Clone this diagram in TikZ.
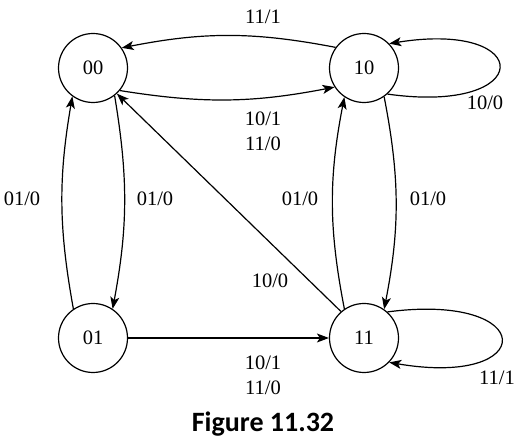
\documentclass[tikz,border=0pt]{standalone}
\usepackage{fontspec}
\setmainfont{Liberation Serif}
\newfontfamily\capfont{Carlito}
\usetikzlibrary{arrows.meta}
\begin{document}
\begin{tikzpicture}[x=1pt,y=1pt,
  state/.style={circle,draw,line width=1.2pt,minimum size=69pt,inner sep=0pt,font=\fontsize{20.5}{24}\selectfont},
  lbl/.style={font=\fontsize{20.5}{25}\selectfont,align=center,inner sep=0pt},
  edge/.style={line width=1.2pt,-{Stealth[length=12pt,width=9pt,inset=3pt]}}]
\useasboundingbox (0,0) rectangle (525,447);
\node[state] (s00) at (93,379) {00};
\node[state] (s10) at (364,379) {10};
\node[state] (s01) at (93,109) {01};
\node[state] (s11) at (364,109) {11};
% top pair
\draw[edge] (s10.144) to[bend right=11] (s00.35);
\draw[edge] (s00.-40) to[bend right=10] (s10.213);
% left pair
\draw[edge] (s01.124) to[bend left=10] (s00.234);
\draw[edge] (s00.308) to[bend left=10] (s01.56);
% right pair
\draw[edge] (s11.124) to[bend left=11] (s10.236);
\draw[edge] (s10.305) to[bend left=11] (s11.55);
% diagonal and bottom
\draw[edge] (s11.131) -- (s00.313);
\draw[edge] (s01) -- (s11);
% self loops
\draw[edge] (s10.-48) .. controls (536,332) and (536,427) .. (s10.44);
\draw[edge] (s11.48) .. controls (539,155) and (539,59) .. (s11.-44);
% labels
\node[lbl] (l1) at (263,430) {11/1};
\node[lbl] (l2) at (263,316) {10/1\\11/0};
\node[lbl] (l3) at (485,344) {10/0};
\node[lbl] (l4) at (22,248) {01/0};
\node[lbl] (l5) at (155,248) {01/0};
\node[lbl] (l6) at (300,248) {01/0};
\node[lbl] (l7) at (428,248) {01/0};
\node[lbl] (l8) at (270,166) {10/0};
\node[lbl] (l9) at (263,72) {10/1\\11/0};
\node[lbl] (l10) at (497,69) {11/1};
\node[font=\capfont\bfseries\fontsize{28}{32}\selectfont,inner sep=0pt] (cap) at (263,23) {Figure 11.32};
\end{tikzpicture}
\end{document}
